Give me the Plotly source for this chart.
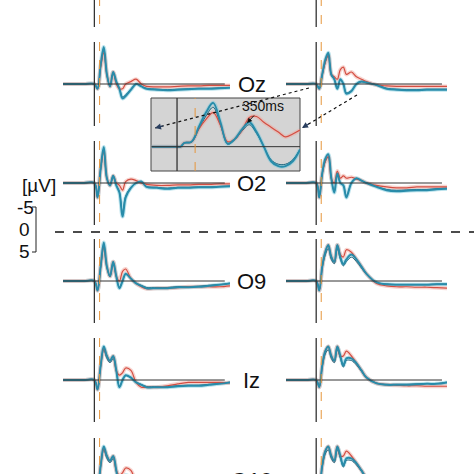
import math
import plotly.graph_objects as go

W = H = 474
t = [-150,-100,-50,0,15,30,45,60,75,90,105,120,135,150,175,200,225,250,300,350,400,450,500,550,600,650]

L_Oz_teal = [0,0,0,0,1,-4,-7.7,-2,0.5,-2.5,-0.5,1,3,2.5,1.2,0,0.5,1,1.2,1.3,1.2,1.1,1,1,0.9,0.8]
L_Oz_red  = [0,0,0,0,1,-3.5,-6.5,-2,0.5,-2.5,0,1,1,0,-0.5,-1,0,0.5,0.6,0.6,0.5,0.4,0.4,0.3,0.3,0.3]
L_O2_teal = [0,0,0,0,3,-3,-7.5,-1,0.5,-1.5,0.5,2,7,3,1,0,-0.3,0.8,1,1.2,1,1,0.9,0.9,0.8,0.7]
L_O2_red  = [0,0,0,0,3,-3,-6.5,-1,0.5,-1.5,0,0.5,1.5,-0.3,-0.8,-0.5,0,0.3,0.5,0.5,0.4,0.4,0.3,0.3,0.2,0.2]
L_O9_teal = [0,0,0,0,2,-3,-8,-3,-1,-4,-1,1.5,0,-1.5,-0.5,0.5,1,1.5,1.5,1.5,1.3,1.3,1.2,1,0.8,0.5]
L_O9_red  = [0,0,0,0,2,-3,-7,-3,-1,-4,-1,0,-2,-2.5,-0.5,0.5,1.2,1.6,1.5,1.5,1.4,1.2,1.2,1.2,1.2,1]
L_Iz_teal = [0,0,0,0,2,-3,-7,-5,-4,-5,-2,1.5,0,-1,-0.5,0.5,1,1.5,1.5,1.5,1.3,1.2,1.2,1,0.8,0.5]
L_Iz_red  = [0,0,0,0,2,-3,-6.5,-5,-4,-5,-2,-1,-1.5,-2.5,-2,0.5,1.5,1.5,1.5,1.2,0.8,0.5,0.5,0.5,0.5,0.6]
R_Oz_teal = [0,0,0,0,1,-2,-5,-6.5,-2,-1,1,-1,0,2,1.5,0,-0.5,-0.3,0.2,1,1.2,1.3,1.3,1.2,1.2,1.2]
R_Oz_red  = [0,0,0,0,1,-2,-4.5,-6,-2,-1.5,-1,-3,-3.5,-2,-2.5,-1.5,-1,-0.5,0.2,0.4,0.5,0.5,0.5,0.5,0.5,0.5]
R_O2_teal = [0,0,0,0,3,-2,-5,-6,-1,2,-2,0,0.5,3,0,-1,-0.5,0,0.8,1.5,1.7,1.6,1.5,1.5,1.3,1.2]
R_O2_red  = [0,0,0,0,3,-2,-4.5,-5.5,-1,0,-2.5,-1,-1.5,-1,-1.2,-0.8,-0.5,0,0.5,0.8,1,1,0.8,0.8,0.8,0.8]
R_O9_teal = [0,0,0,0,2,-3,-6,-7.5,-5,-4,-7.5,-5,-3.5,-4.5,-5.5,-4.5,-3,-1.5,0.3,0.7,0.8,0.8,0.8,0.8,0.7,0.7]
R_O9_red  = [0,0,0,0,2,-3,-6,-7.5,-5,-4,-7.5,-5.5,-5,-6.5,-6,-4.5,-3,-1.5,0.5,1,1.2,1.2,1.3,1.3,1.4,1.5]
R_Iz_teal = [0,0,0,0,1.5,-3,-6,-7,-5,-4,-7,-5,-3,-4.5,-4.5,-3.5,-2,-0.5,0.7,1,1,1,0.9,0.8,0.8,0.5]
R_Iz_red  = [0,0,0,0,1.5,-3,-6,-7,-5,-4,-7,-5,-5,-6,-5,-3.5,-2,-0.5,0.7,1,1.1,1.2,1.2,1.3,1.3,1.3]
Top_tail  = [0,0,0,0,0,0,0,0,0,0,0,0,0,0,0,0,0,0,0,0,0,0,0,0,0,0]

inset_t    = [-35,-10,0,5,10,20,30,40,50,60,70,80,90,100,110,120,130,140,150,160,170]
inset_teal = [0,0,0,0,4,5,20,35,45,25,3,8,18,25,15,0,-15,-20,-20,-15,-3]
inset_red  = [0,0,0,0,4,5,18,28,35,22,5,8,17,30,31,25,20,15,10,13,17]

rows = [
    ("", -15, L_O2_teal, L_O2_red, R_O2_teal, R_O2_red),
    ("Oz", 84, L_Oz_teal, L_Oz_red, R_Oz_teal, R_Oz_red),
    ("O2", 183, L_O2_teal, L_O2_red, R_O2_teal, R_O2_red),
    ("O9", 281, L_O9_teal, L_O9_red, R_O9_teal, R_O9_red),
    ("Iz", 380, L_Iz_teal, L_Iz_red, R_Iz_teal, R_Iz_red),
    ("O10", 480, L_Iz_teal, L_Iz_red, R_Iz_teal, R_Iz_red),
]
RED = "rgb(212,78,66)"
TEAL = "rgb(40,140,170)"
TEAL2 = "rgb(30,100,125)"
PXV = 4.8
YL = 8.75
FONT = dict(family="Arial", color="#111")

fig = go.Figure()
layout = {}
shapes = []
annotations = []
n = [0]

def add_axes(xdom, ydom, xr, yr):
    n[0] += 1
    k = n[0]
    s = "" if k == 1 else str(k)
    layout["xaxis" + s] = dict(domain=xdom, range=xr, visible=False, fixedrange=True)
    layout["yaxis" + s] = dict(domain=ydom, range=yr, visible=False, fixedrange=True, anchor="x" + s)
    return "x" + s, "y" + s

def panel(xa, ya, tt, teal, red, xend, vlo, vhi):
    for y, c, w in [(teal, "rgba(120,200,220,0.5)", 4), (red, "rgba(240,170,160,0.5)", 4)]:
        fig.add_trace(go.Scatter(x=tt, y=y, mode="lines", line=dict(color=c, width=w, shape="spline"), xaxis=xa, yaxis=ya, hoverinfo="skip"))
    fig.add_trace(go.Scatter(x=tt, y=[v * 0.9 for v in teal], mode="lines", line=dict(color=TEAL2, width=1, shape="spline"), xaxis=xa, yaxis=ya))
    fig.add_trace(go.Scatter(x=tt, y=red, mode="lines", line=dict(color=RED, width=1.2, shape="spline"), xaxis=xa, yaxis=ya))
    fig.add_trace(go.Scatter(x=tt, y=teal, mode="lines", line=dict(color=TEAL, width=2, shape="spline"), xaxis=xa, yaxis=ya))
    fig.add_trace(go.Scatter(x=[tt[0], xend], y=[0, 0], mode="lines", line=dict(color="#333", width=1), xaxis=xa, yaxis=ya))
    fig.add_trace(go.Scatter(x=[0, 0], y=[vlo, vhi], mode="lines", line=dict(color="#333", width=1.3), xaxis=xa, yaxis=ya))
    fig.add_trace(go.Scatter(x=[25, 25], y=[vlo, vhi], mode="lines", line=dict(color="rgb(230,150,60)", width=1, dash="dash"), xaxis=xa, yaxis=ya))

for i, (label, Z, lt, lr, rt, rr) in enumerate(rows):
    if i == 0:
        lt = lr = rt = rr = Top_tail
    top = max(Z - 42, 0); bot = min(Z + 42, H)
    vtop = (top - Z) / PXV; vbot = (bot - Z) / PXV
    ydom = [1 - bot / H, 1 - top / H]
    for xdom, te, re in [([61 / W, 230 / W], lt, lr), ([284 / W, 447 / W], rt, rr)]:
        xa, ya = add_axes(xdom, ydom, [-160, 650], [vbot, vtop])
        panel(xa, ya, t, te, re, 625, -YL, YL)
    if label:
        annotations.append(dict(text=label, x=252 / W, y=1 - Z / H, xref="paper", yref="paper", showarrow=False,
                                yanchor="middle", font=dict(size=22, **FONT)))

shapes.append(dict(type="rect", xref="paper", yref="paper", x0=151 / W, x1=300 / W, y0=1 - 171 / H, y1=1 - 98 / H,
                   fillcolor="rgb(212,212,212)", line=dict(color="#444", width=1), layer="below"))
xa, ya = add_axes([151 / W, 300 / W], [1 - 171 / H, 1 - 98 / H], [-36, 170], [-25, 50])
panel(xa, ya, inset_t, inset_teal, inset_red, 170, -25, 50)

for x0, y0, x1, y1 in [(309, 88, 155, 128), (357, 95, 302, 128)]:
    shapes.append(dict(type="line", xref="paper", yref="paper", x0=x0 / W, y0=1 - y0 / H, x1=x1 / W, y1=1 - y1 / H,
                       line=dict(color="#111", width=1.2, dash="dot")))
    d = math.hypot(x0 - x1, y0 - y1)
    annotations.append(dict(x=x1 / W, y=1 - y1 / H, ax=(x0 - x1) / d * 10, ay=(y0 - y1) / d * 10,
                            xref="paper", yref="paper", showarrow=True, arrowhead=2, arrowsize=1, arrowwidth=1.2, text=""))
annotations.append(dict(text="350ms", x=247 / W, y=1 - 123 / H, xref="paper", yref="paper", ax=16, ay=-17,
                        showarrow=True, arrowhead=2, arrowwidth=1, standoff=0, arrowcolor="#111",
                        font=dict(size=14, **FONT)))

annotations += [
    dict(text="[µV]", x=20 / W, y=1 - 185 / H, xref="paper", yref="paper", showarrow=False, font=dict(size=19, **FONT)),
    dict(text="-5", x=15 / W, y=1 - 207 / H, xref="paper", yref="paper", showarrow=False, font=dict(size=19, **FONT)),
    dict(text="0", x=17 / W, y=1 - 229 / H, xref="paper", yref="paper", showarrow=False, font=dict(size=19, **FONT)),
    dict(text="5", x=17 / W, y=1 - 252 / H, xref="paper", yref="paper", showarrow=False, font=dict(size=19, **FONT)),
]
shapes.append(dict(type="path", xref="paper", yref="paper",
                   path=f"M {32/W} {1-207/H} L {36/W} {1-207/H} L {36/W} {1-252/H} L {32/W} {1-252/H}",
                   line=dict(color="#222", width=1)))
shapes.append(dict(type="line", xref="paper", yref="paper", x0=55 / W, x1=1, y0=1 - 232 / H, y1=1 - 232 / H,
                   line=dict(color="#111", width=1.5, dash="dash")))

layout.update(width=W, height=H, margin=dict(l=0, r=0, t=0, b=0), showlegend=False,
              paper_bgcolor="white", plot_bgcolor="rgba(0,0,0,0)", shapes=shapes, annotations=annotations)
fig.update_layout(**layout)
fig.write_html("out.html", config={"displayModeBar": False})
with open("out.html") as f:
    html = f.read()
html = html.replace("<head>", "<head><style>html,body{margin:0;padding:0;overflow:hidden}</style>", 1)
with open("out.html", "w") as f:
    f.write(html)
